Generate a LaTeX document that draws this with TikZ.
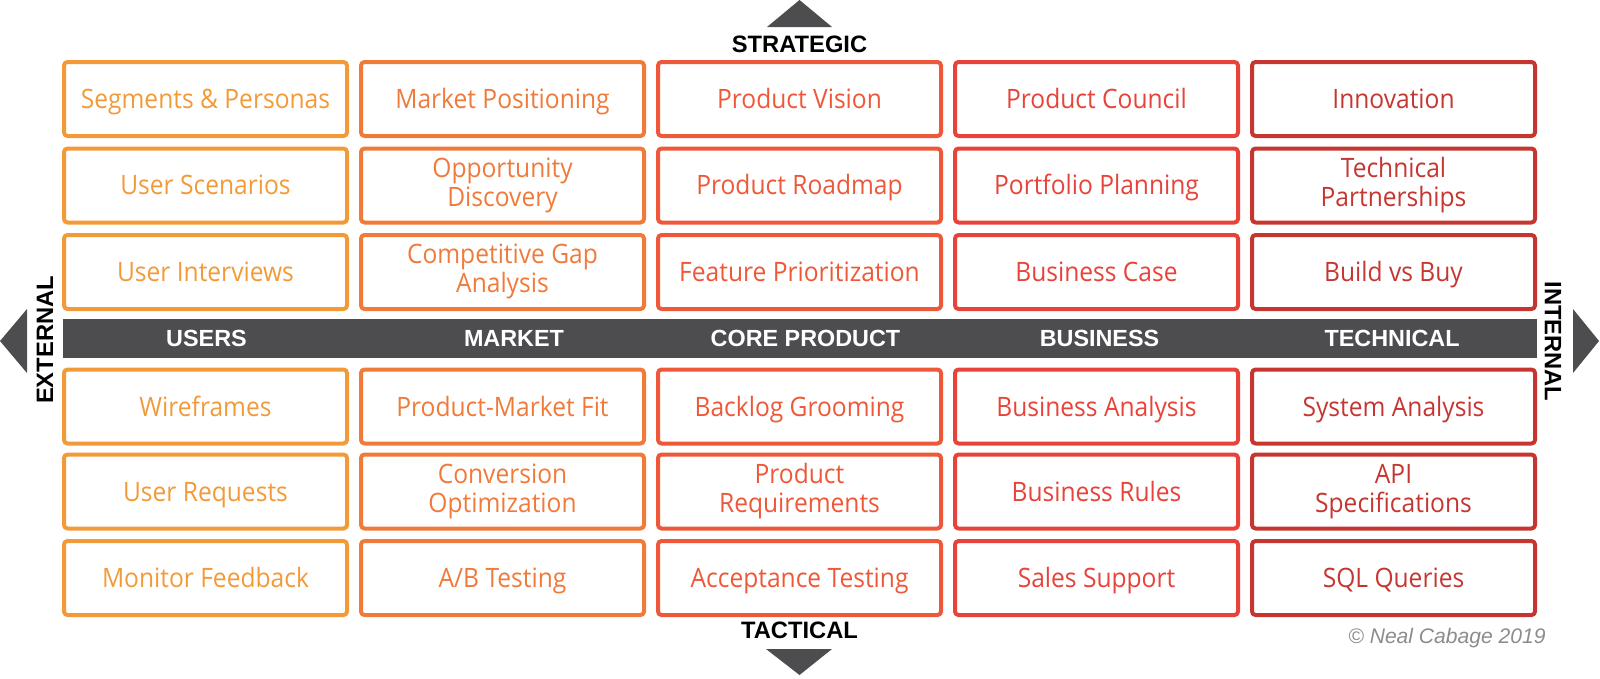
\documentclass[tikz,border=0pt]{standalone}
\usepackage{fontspec}
\setmainfont{Liberation Sans}
\newfontfamily\boxfont[FakeStretch=0.92]{Open Sans}
\definecolor{usercol}{HTML}{F39A38}
\definecolor{marketcol}{HTML}{F07A3A}
\definecolor{corecol}{HTML}{EE5838}
\definecolor{businesscol}{HTML}{E8433A}
\definecolor{techcol}{HTML}{C63631}
\definecolor{bargray}{HTML}{4D4D4F}
\definecolor{notegray}{HTML}{8C8C8C}
\newcommand{\cellstrut}{\rule[-2pt]{0pt}{9.4pt}}
\begin{document}
\begin{tikzpicture}[line join=round,
	cell/.style={draw=#1, text=#1, line width=0.04cm, rounded corners=1pt, minimum width=2.83cm, minimum height=0.74cm, inner sep=0pt, align=center, font=\boxfont\fontsize{7.6}{8.25}\selectfont, execute at begin node=\cellstrut, execute at end node=\cellstrut},
	lane/.style={anchor=base, text=white, inner sep=0pt, font=\bfseries\fontsize{6.65}{7}\selectfont},
	axislabel/.style={inner sep=0pt, font=\bfseries\fontsize{6.75}{7}\selectfont}]
	\useasboundingbox (0,0) rectangle (16,-6.78);
	% centre band and the four pointers
	\fill[bargray] (0.63,-3.19) rectangle (15.37,-3.58);
	\fill[bargray] (7.67,-0.27)--(7.995,0)--(8.32,-0.27)--cycle;
	\fill[bargray] (7.66,-6.49)--(7.995,-6.75)--(8.32,-6.49)--cycle;
	\fill[bargray] (0.27,-3.09)--(0,-3.41)--(0.27,-3.73)--cycle;
	\fill[bargray] (15.73,-3.09)--(15.99,-3.41)--(15.73,-3.73)--cycle;
	% boxes, one loop per column
	\foreach \t [count=\r] in {Segments \& Personas, User Scenarios, User Interviews, Wireframes, User Requests, Monitor Feedback}{
		\pgfmathsetmacro\y{{0.99,1.855,2.72,4.065,4.915,5.78}[\r-1]}
		\node[cell=usercol] (users\r) at (2.055,-\y) {\t};}
	\foreach \t [count=\r] in {Market Positioning, {Opportunity\\Discovery}, {Competitive Gap\\Analysis}, Product-Market Fit, {Conversion\\Optimization}, {A/B Testing}}{
		\pgfmathsetmacro\y{{0.99,1.855,2.72,4.065,4.915,5.78}[\r-1]}
		\node[cell=marketcol] (market\r) at (5.025,-\y) {\t};}
	\foreach \t [count=\r] in {Product Vision, Product Roadmap, Feature Prioritization, Backlog Grooming, {Product\\Requirements}, Acceptance Testing}{
		\pgfmathsetmacro\y{{0.99,1.855,2.72,4.065,4.915,5.78}[\r-1]}
		\node[cell=corecol] (core\r) at (7.995,-\y) {\t};}
	\foreach \t [count=\r] in {Product Council, Portfolio Planning, Business Case, Business Analysis, Business Rules, Sales Support}{
		\pgfmathsetmacro\y{{0.99,1.855,2.72,4.065,4.915,5.78}[\r-1]}
		\node[cell=businesscol] (business\r) at (10.965,-\y) {\t};}
	\foreach \t [count=\r] in {Innovation, {Technical\\Partnerships}, Build vs Buy, System Analysis, {API\\Specifications}, SQL Queries}{
		\pgfmathsetmacro\y{{0.99,1.855,2.72,4.065,4.915,5.78}[\r-1]}
		\node[cell=techcol] (tech\r) at (13.935,-\y) {\t};}
	% lane titles on the band
	\node[lane] (userslane) at (2.065,-3.46) {USERS};
	\node[lane] (marketlane) at (5.14,-3.46) {MARKET};
	\node[lane] (corelane) at (8.055,-3.46) {CORE PRODUCT};
	\node[lane] (businesslane) at (10.995,-3.46) {BUSINESS};
	\node[lane] (techlane) at (13.92,-3.46) {TECHNICAL};
	% axis words
	\node[axislabel, anchor=base] (strategic) at (7.995,-0.52) {STRATEGIC};
	\node[axislabel, anchor=base] (tactical) at (7.995,-6.38) {TACTICAL};
	\node[axislabel, rotate=90] (external) at (0.45,-3.40) {EXTERNAL};
	\node[axislabel, rotate=-90] (internal) at (15.53,-3.415) {INTERNAL};
	\node[anchor=base, inner sep=0pt, text=notegray, font=\itshape\fontsize{6}{7}\selectfont] (credit) at (14.47,-6.43) {© Neal Cabage 2019};
\end{tikzpicture}
\end{document}
